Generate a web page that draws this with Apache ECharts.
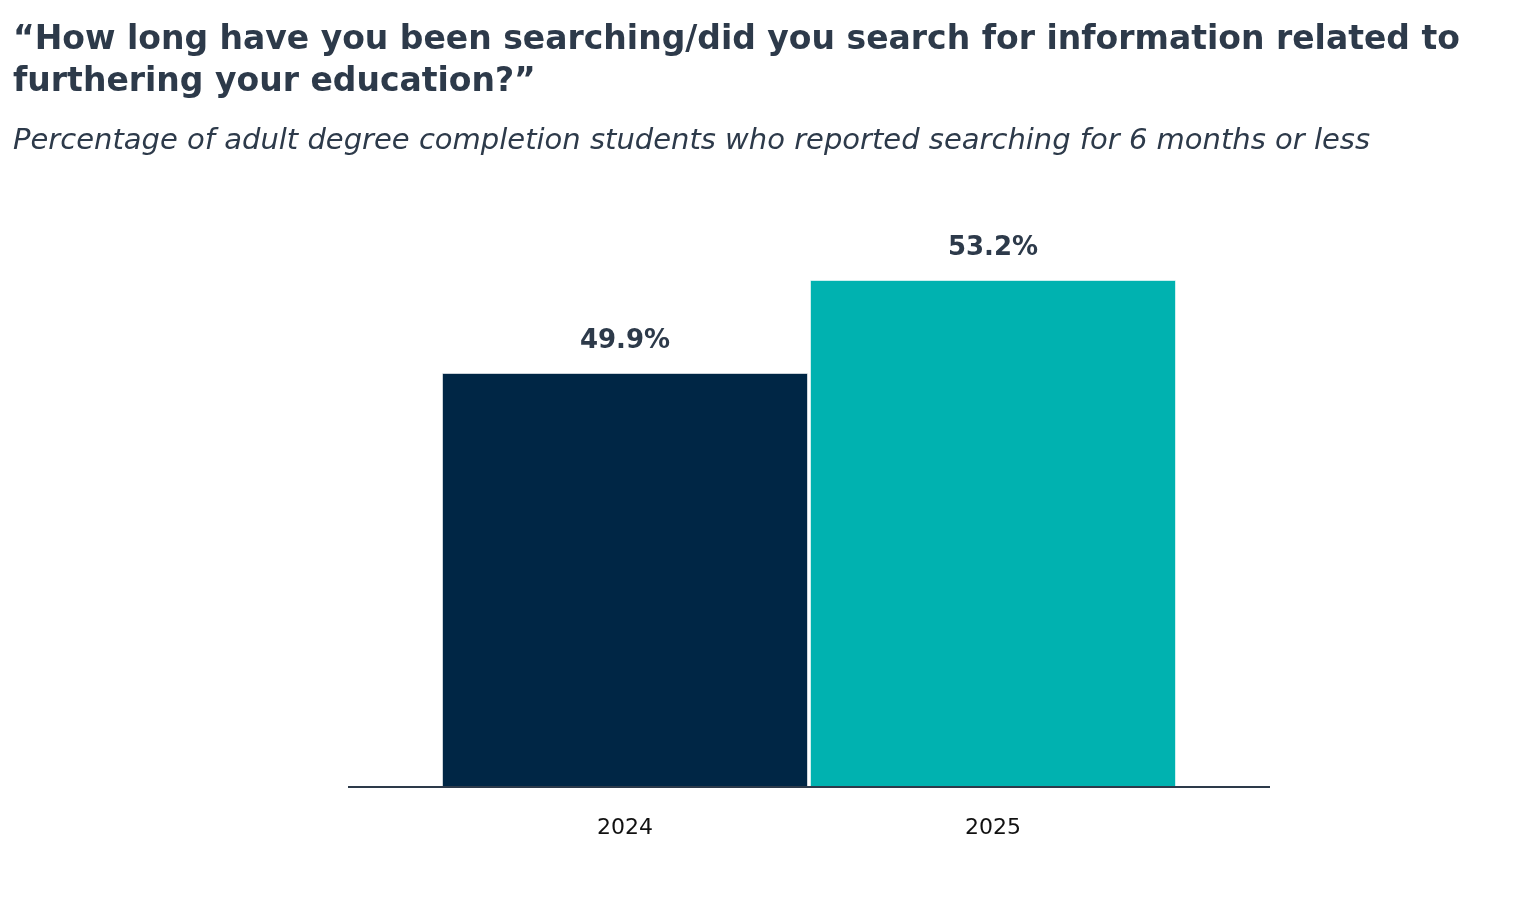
<!DOCTYPE html>
<html><head><meta charset="utf-8">
<script src="https://cdn.jsdelivr.net/npm/echarts@6/dist/echarts.min.js"></script>
<style>html,body{margin:0;padding:0;background:#fff}#c{width:1536px;height:915px}</style>
</head><body><div id="c"></div>
<script>
const categories = ['2024', '2025'];
const values = [49.9, 53.2];
const colors = ['#002645', '#00b2b0'];
const chart = echarts.init(document.getElementById('c'));
chart.setOption({
  backgroundColor: '#fff',
  title: [
    {text: '“How long have you been searching/did you search for information related to\nfurthering your education?”', left: 8, top: 14,
     textStyle: {fontFamily: 'DejaVu Sans', fontWeight: 'bold', fontSize: 33, color: '#2d3a4a', lineHeight: 42}},
    {text: 'Percentage of adult degree completion students who reported searching for 6 months or less', left: 8, top: 122,
     textStyle: {fontFamily: 'DejaVu Sans', fontStyle: 'italic', fontWeight: 'normal', fontSize: 29, color: '#2d3a4a'}}
  ],
  grid: {left: 441, right: 359, top: 229, bottom: 128},
  xAxis: {type: 'category', data: categories, axisLine: {show: false}, axisTick: {show: false},
    axisLabel: {fontFamily: 'DejaVu Sans', fontSize: 22, color: '#111', margin: 30}},
  yAxis: {type: 'value', min: 35.2, max: 55, show: false, splitLine: {show: false}},
  series: [{type: 'bar', barWidth: '99.6%',
    data: values.map((v, i) => ({value: v, itemStyle: {color: colors[i]}})),
    itemStyle: {borderColor: '#fff', borderWidth: 1},
    label: {show: true, position: 'top', distance: 18, formatter: p => p.value.toFixed(1) + '%',
      fontFamily: 'DejaVu Sans', fontWeight: 'bold', fontSize: 26, color: '#2d3a4a'}}],
  graphic: [{type: 'line', shape: {x1: 348, y1: 787, x2: 1270, y2: 787}, style: {stroke: '#2d3a4a', lineWidth: 2}, z: 10}]
});
</script></body></html>
